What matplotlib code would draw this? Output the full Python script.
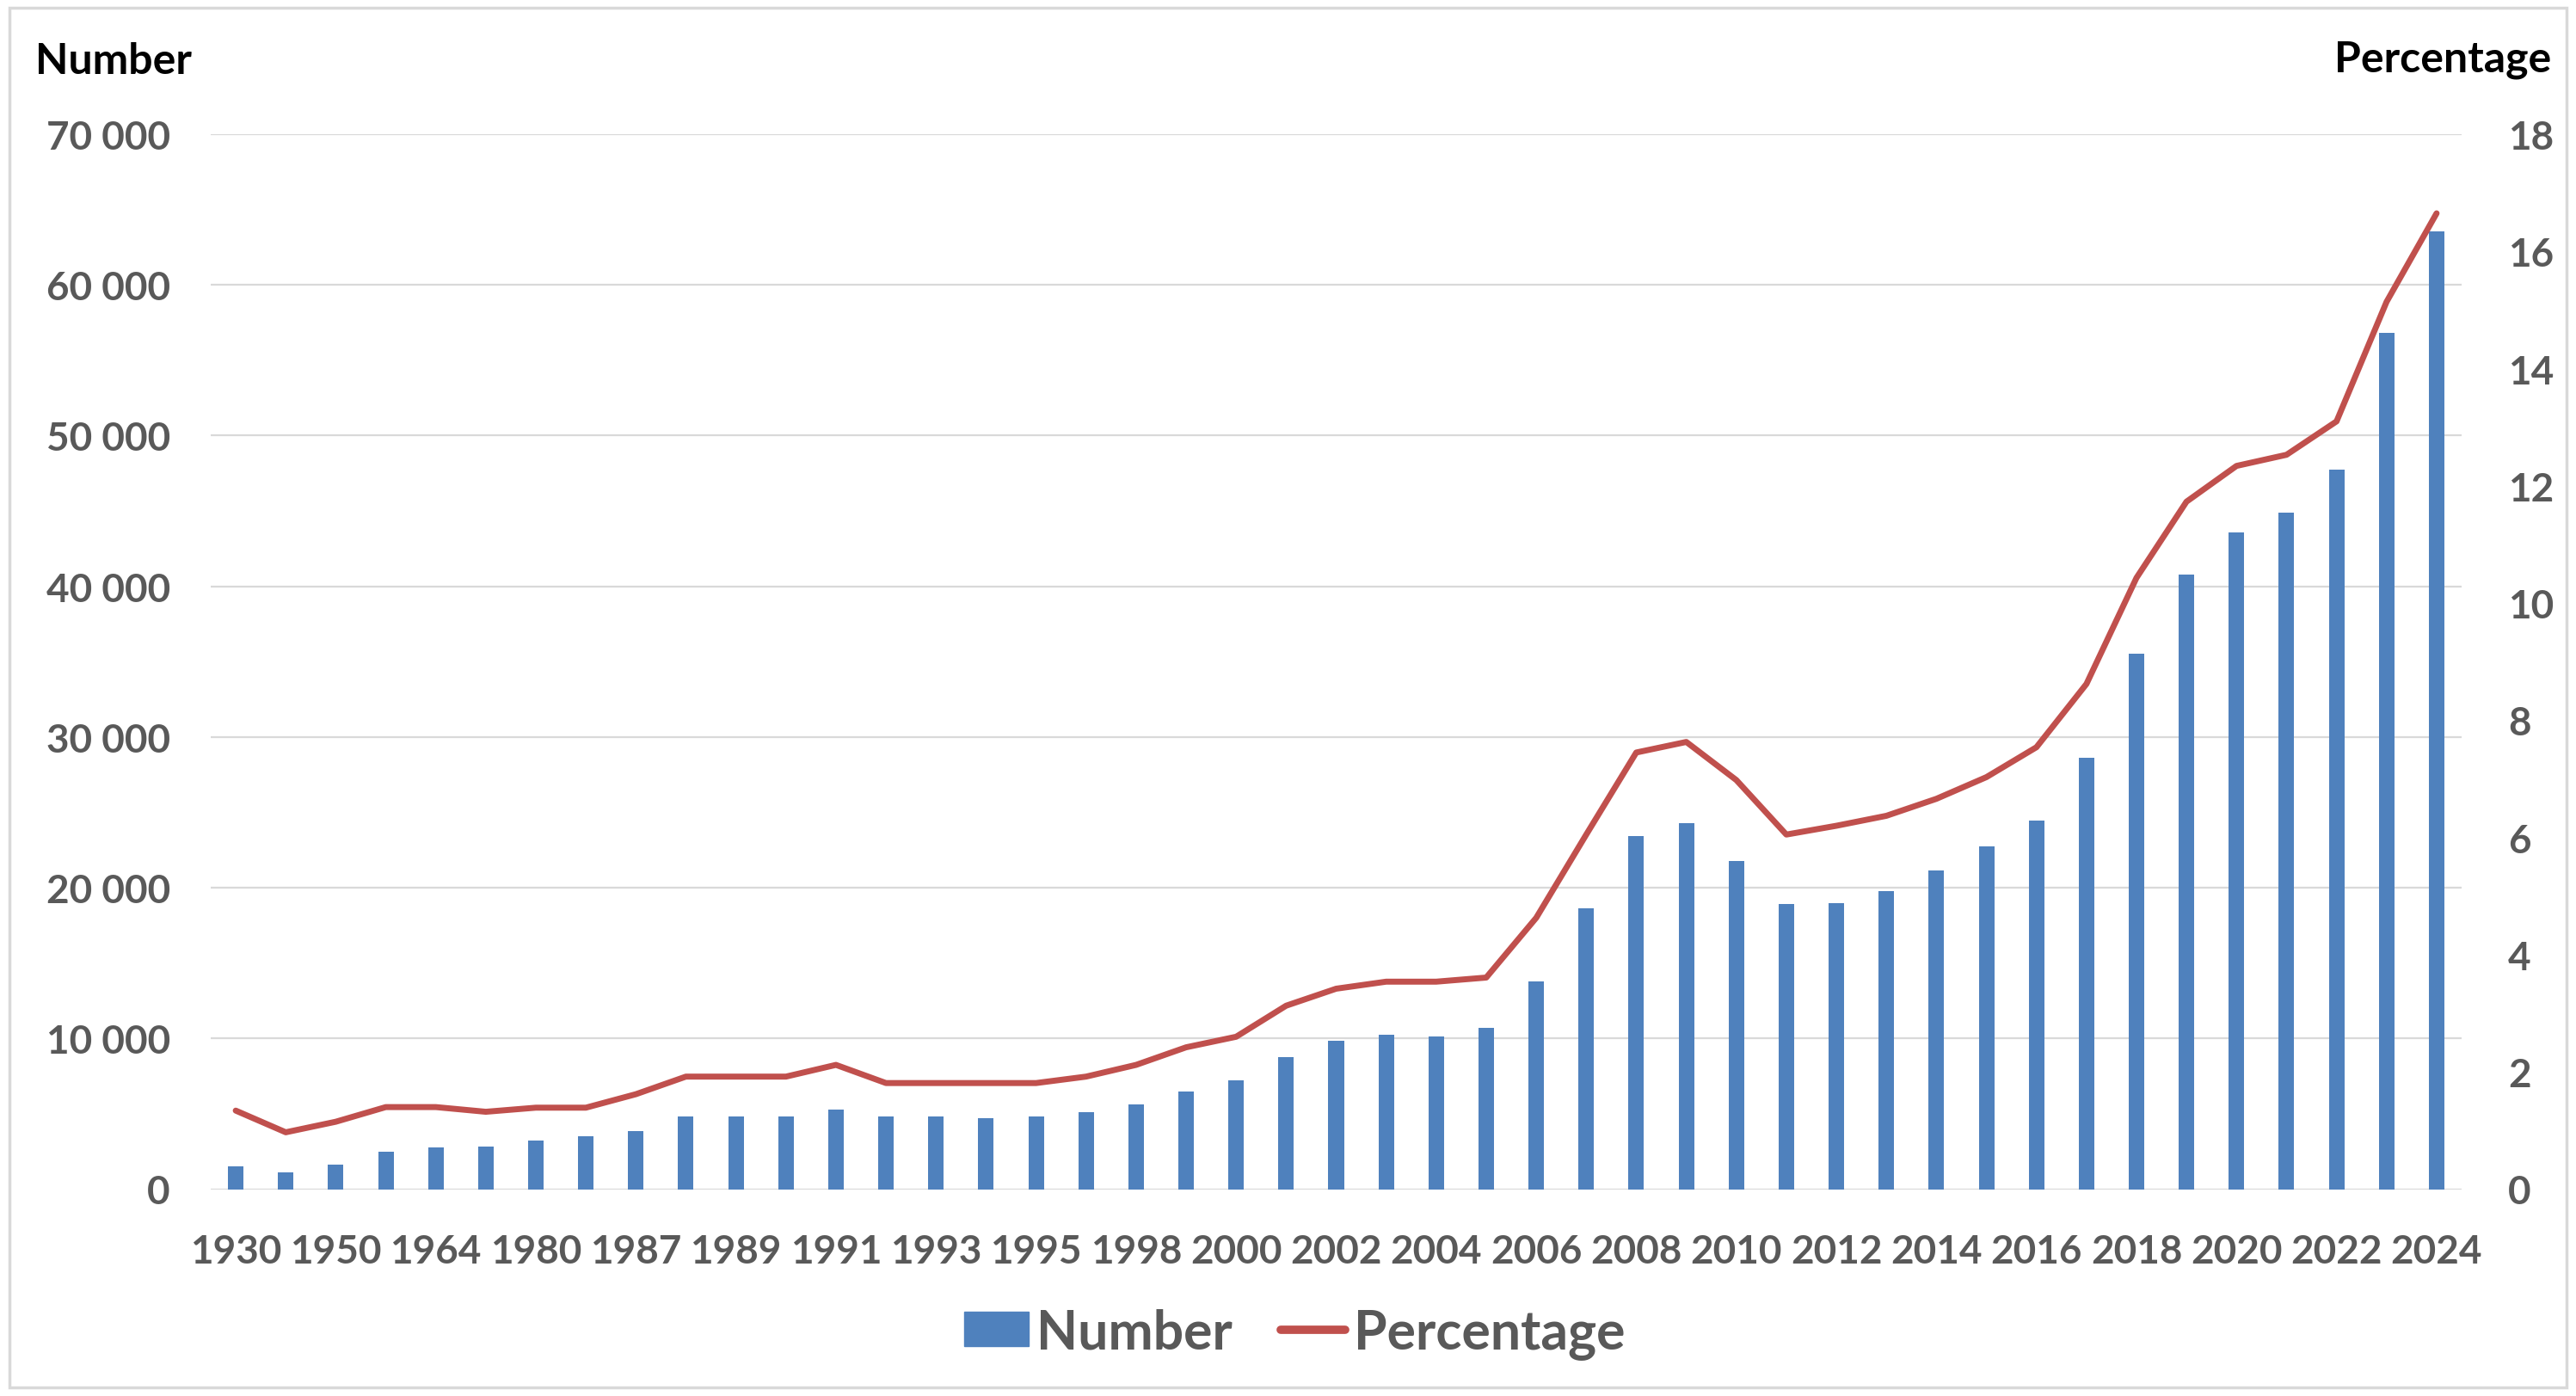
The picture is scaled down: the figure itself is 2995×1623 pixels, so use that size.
import numpy as np
import matplotlib
matplotlib.use('Agg')
import matplotlib.pyplot as plt
from matplotlib.patches import Rectangle, Patch
from matplotlib.lines import Line2D
from matplotlib.ticker import FuncFormatter

years = ['1930', '1940', '1950', '1960', '1964', '1970', '1980', '1985', '1987',
         '1988', '1989', '1990', '1991', '1992', '1993', '1994', '1995', '1997',
         '1998', '1999', '2000', '2001', '2002', '2003', '2004', '2005', '2006',
         '2007', '2008', '2009', '2010', '2011', '2012', '2013', '2014', '2015',
         '2016', '2017', '2018', '2019', '2020', '2021', '2022', '2023', '2024']
numbers = [1500, 1100, 1600, 2500, 2750, 2850, 3250, 3500, 3850,
           4800, 4800, 4800, 5300, 4800, 4800, 4700, 4800, 5100,
           5650, 6450, 7200, 8750, 9850, 10250, 10150, 10700, 13800,
           18650, 23400, 24300, 21800, 18900, 19000, 19800, 21150, 22750,
           24450, 28600, 35550, 40800, 43600, 44900, 47750, 56800, 63550]
percentages = [1.34, 0.97, 1.15, 1.40, 1.40, 1.32, 1.39, 1.39, 1.62,
               1.92, 1.92, 1.92, 2.12, 1.81, 1.81, 1.81, 1.81, 1.92,
               2.12, 2.42, 2.60, 3.13, 3.42, 3.54, 3.54, 3.61, 4.63,
               6.05, 7.45, 7.63, 6.98, 6.05, 6.20, 6.37, 6.66, 7.03,
               7.54, 8.62, 10.43, 11.73, 12.34, 12.53, 13.10, 15.14, 16.65]

bar_color = '#4F81BD'
line_color = '#C0504D'
grid_color = '#D9D9D9'
text_color = '#595959'

plt.rcParams['font.family'] = ['Lato', 'DejaVu Sans']

fig = plt.figure(figsize=(29.95, 16.24), dpi=100)
ax = fig.add_axes([245 / 2995, 1 - 1383.5 / 1624, (2862 - 245) / 2995, (1383.5 - 157) / 1624])

x = np.arange(len(years))
ax.bar(x, numbers, width=0.31, color=bar_color, zorder=2)
ax.set_xlim(-0.5, len(years) - 0.5)
ax.set_ylim(0, 70000)
ax.set_yticks(range(0, 70001, 10000))
ax.yaxis.set_major_formatter(FuncFormatter(lambda v, p: f"{int(v):,}".replace(',', ' ')))
ax.set_xticks(x[::2])
ax.set_xticklabels(years[::2])
ax.grid(axis='y', color=grid_color, linewidth=1.6, zorder=0)
ax.set_axisbelow(True)
for s in ax.spines.values():
    s.set_visible(False)
ax.tick_params(axis='y', length=0, pad=34, labelsize=33, labelcolor=text_color)
ax.tick_params(axis='x', length=0, pad=37, labelsize=33, labelcolor=text_color)
for lbl in ax.get_xticklabels() + ax.get_yticklabels():
    lbl.set_fontweight('bold')

ax2 = ax.twinx()
ax2.plot(x, percentages, color=line_color, linewidth=5, solid_joinstyle='round',
         solid_capstyle='round', zorder=3)
ax2.set_ylim(0, 18)
ax2.set_yticks(range(0, 19, 2))
for s in ax2.spines.values():
    s.set_visible(False)
ax2.tick_params(axis='y', length=0, pad=39, labelsize=33, labelcolor=text_color)
for lbl in ax2.get_yticklabels():
    lbl.set_fontweight('bold')

fig.text(41 / 2995, 1 - 72 / 1624, 'Number', fontsize=36, fontweight='bold',
         color='black', ha='left', va='center')
fig.text(2966 / 2995, 1 - 70 / 1624, 'Percentage', fontsize=36, fontweight='bold',
         color='black', ha='right', va='center')

handles = [Patch(facecolor=bar_color, edgecolor=bar_color),
           Line2D([0], [0], color=line_color, linewidth=7, solid_capstyle='round')]
leg = fig.legend(handles, ['Number', 'Percentage'], loc='center',
                 bbox_to_anchor=(1505 / 2995, 1 - 1551 / 1624), ncol=2, frameon=False,
                 prop={'size': 45, 'weight': 'bold'}, handlelength=1.2,
                 handleheight=0.6, handletextpad=0.15, columnspacing=0.9)
for t in leg.get_texts():
    t.set_color(text_color)

fig.patches.append(Rectangle((11 / 2995, 10 / 1624), (2984 - 11) / 2995, (1614 - 10) / 1624,
                             transform=fig.transFigure, fill=False,
                             edgecolor=grid_color, linewidth=2.5))

fig.savefig('out.png', dpi=100)
